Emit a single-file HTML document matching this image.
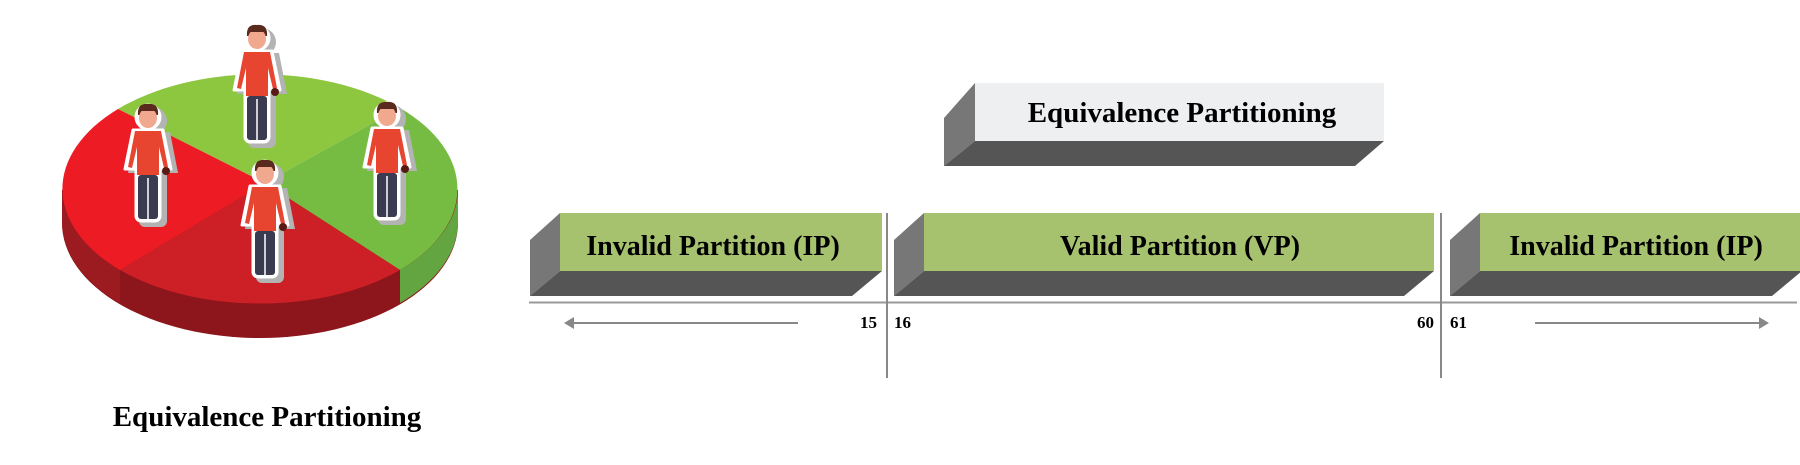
<!DOCTYPE html>
<html><head><meta charset="utf-8"><style>
html,body{margin:0;padding:0;background:#fff;width:1800px;height:465px;overflow:hidden}
text{font-family:"Liberation Serif",serif;font-weight:bold;fill:#000}
</style></head><body>
<svg width="1800" height="465" viewBox="0 0 1800 465" xmlns="http://www.w3.org/2000/svg">
<defs>
<g id="p">
  <g transform="translate(5,4)" fill="#b3b3b3">
    <circle cx="0" cy="0" r="14"/><path d="M-17,11 L17,11 L25,52 L-25,52 Z"/><rect x="-14" y="50" width="28" height="56" rx="6"/>
  </g>
  <g fill="#fff" stroke="#fff" stroke-width="3" stroke-linejoin="round">
    <circle cx="0" cy="0" r="12"/><path d="M-15,13 L15,13 L23,52 L-23,52 Z"/><rect x="-12" y="50" width="24" height="54" rx="5"/>
  </g>
  <path d="M-10,-2 Q-11,-14 0,-13 Q11,-14 10,-2 Z" fill="#5a2a1e"/>
  <ellipse cx="0" cy="1" rx="9" ry="10" fill="#f0a88e"/>
  <path d="M-10,-3 Q-10,-13 0,-12 Q10,-13 10,-3 L8,-6 L-8,-6 Z" fill="#5a2a1e"/>
  <path d="M-13,14 L13,14 L20,50 L16,51 L11,30 L11,58 L-11,58 L-11,30 L-16,51 L-20,50 Z" fill="#e84530"/>
  <rect x="-10" y="58" width="20" height="44" rx="3" fill="#3a3a50"/>
  <line x1="0" y1="61" x2="0" y2="102" stroke="#fff" stroke-width="1.5"/>
  <circle cx="18" cy="54" r="4" fill="#5a1a14"/>
</g>
</defs>
<path d="M62,190 L62,223 A198,115 0 0 0 458,223 L458,190 Z" fill="#8c161b"/>
<path d="M62,190 L62,223 A198,115 0 0 0 120,303 L120,270 A198,115 0 0 1 62,190 Z" fill="#9b1b20"/>
<path d="M400,270 L400,303 A198,115 0 0 0 458,223 L458,190 A198,115 0 0 1 400,270 Z" fill="#63a540"/>
<path d="M265,183 L118,109 A198,115 0 0 1 400,108 Z" fill="#8dc63f"/>
<path d="M265,183 L400,108 A198,115 0 0 1 400,270 Z" fill="#76bc43"/>
<path d="M265,183 L400,270 A198,115 0 0 1 120,270 Z" fill="#cc1f26"/>
<path d="M265,183 L120,270 A198,115 0 0 1 118,109 Z" fill="#ed1c24"/>
<use href="#p" x="257" y="38"/>
<use href="#p" x="148" y="117"/>
<use href="#p" x="387" y="115"/>
<use href="#p" x="265" y="173"/>
<text x="267" y="426" font-size="29" text-anchor="middle">Equivalence Partitioning</text>
<polygon points="975,83 944,118 944,166 975,141" fill="#777"/>
<polygon points="975,141 1384,141 1355,166 944,166" fill="#555"/>
<rect x="975" y="83" width="409" height="58" fill="#eeeff1"/>
<text x="1182" y="122" font-size="29" text-anchor="middle">Equivalence Partitioning</text>
<polygon points="560,213 530,240 530,296 560,271" fill="#777"/>
<polygon points="560,271 882,271 852,296 530,296" fill="#555"/>
<rect x="560" y="213" width="322" height="58" fill="#a7c26f"/>
<text x="713" y="255" font-size="28" text-anchor="middle">Invalid Partition (IP)</text>
<polygon points="924,213 894,240 894,296 924,271" fill="#777"/>
<polygon points="924,271 1434,271 1404,296 894,296" fill="#555"/>
<rect x="924" y="213" width="510" height="58" fill="#a7c26f"/>
<text x="1180" y="255" font-size="28" text-anchor="middle">Valid Partition (VP)</text>
<polygon points="1480,213 1450,240 1450,296 1480,271" fill="#777"/>
<polygon points="1480,271 1802,271 1772,296 1450,296" fill="#555"/>
<rect x="1480" y="213" width="322" height="58" fill="#a7c26f"/>
<text x="1636" y="255" font-size="28" text-anchor="middle">Invalid Partition (IP)</text>
<line x1="529" y1="302.5" x2="1797" y2="302.5" stroke="#999" stroke-width="2"/>
<line x1="887" y1="213" x2="887" y2="378" stroke="#888" stroke-width="2"/>
<line x1="1441" y1="213" x2="1441" y2="378" stroke="#888" stroke-width="2"/>
<text x="877" y="328" font-size="17" text-anchor="end">15</text>
<text x="894" y="328" font-size="17">16</text>
<text x="1434" y="328" font-size="17" text-anchor="end">60</text>
<text x="1450" y="328" font-size="17">61</text>
<line x1="798" y1="323" x2="572" y2="323" stroke="#888" stroke-width="2"/>
<polygon points="564,323 574,317 574,329" fill="#888"/>
<line x1="1535" y1="323" x2="1760" y2="323" stroke="#888" stroke-width="2"/>
<polygon points="1769,323 1759,317 1759,329" fill="#888"/>
</svg>
</body></html>
